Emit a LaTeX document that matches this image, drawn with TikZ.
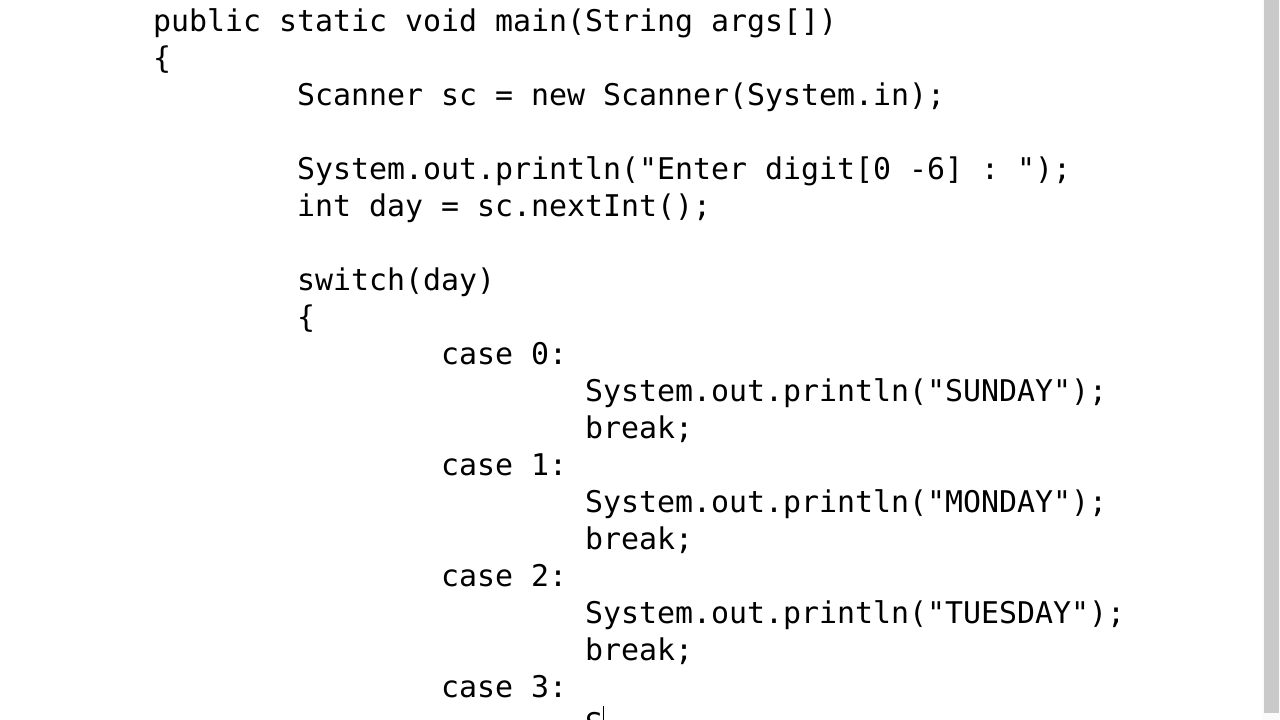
\documentclass[tikz,border=0pt]{standalone}
\usepackage{fontspec}
\setmonofont{DejaVu Sans Mono}
\begin{document}
\begin{tikzpicture}[x=1pt,y=-1pt,
  code/.style={anchor=base west,inner sep=0pt,font=\fontsize{29.9}{30}\ttfamily,text=black}]
\useasboundingbox (0,0) rectangle (1280,720);
\clip (0,0) rectangle (1280,720);
\fill[white!98!black] (0,0) rectangle (1280,720);
\fill[white] (0,0) rectangle (1262,720);
\fill[black!21] (1264,0) rectangle (1279,713);
\def\bl#1{#1*37+31}
\node[code] (l0) at (153,31) {public static void main(String args[])};
\node[code] (l1) at (153,68) {\{};
\node[code] (l2) at (297,105) {Scanner sc = new Scanner(System.in);};
\node[code] (l4) at (297,179) {System.out.println("Enter digit[0 -6] : ");};
\node[code] (l5) at (297,216) {int day = sc.nextInt();};
\node[code] (l7) at (297,290) {switch(day)};
\node[code] (l8) at (297,327) {\{};
\node[code] (l9) at (441,364) {case 0:};
\node[code] (l10) at (585,401) {System.out.println("SUNDAY");};
\node[code] (l11) at (585,438) {break;};
\node[code] (l12) at (441,475) {case 1:};
\node[code] (l13) at (585,512) {System.out.println("MONDAY");};
\node[code] (l14) at (585,549) {break;};
\node[code] (l15) at (441,586) {case 2:};
\node[code] (l16) at (585,623) {System.out.println("TUESDAY");};
\node[code] (l17) at (585,660) {break;};
\node[code] (l18) at (441,697) {case 3:};
\node[code] (l19) at (585,734) {S};
\draw[black,line width=1pt] (603,706) -- (603,720);
\end{tikzpicture}
\end{document}
